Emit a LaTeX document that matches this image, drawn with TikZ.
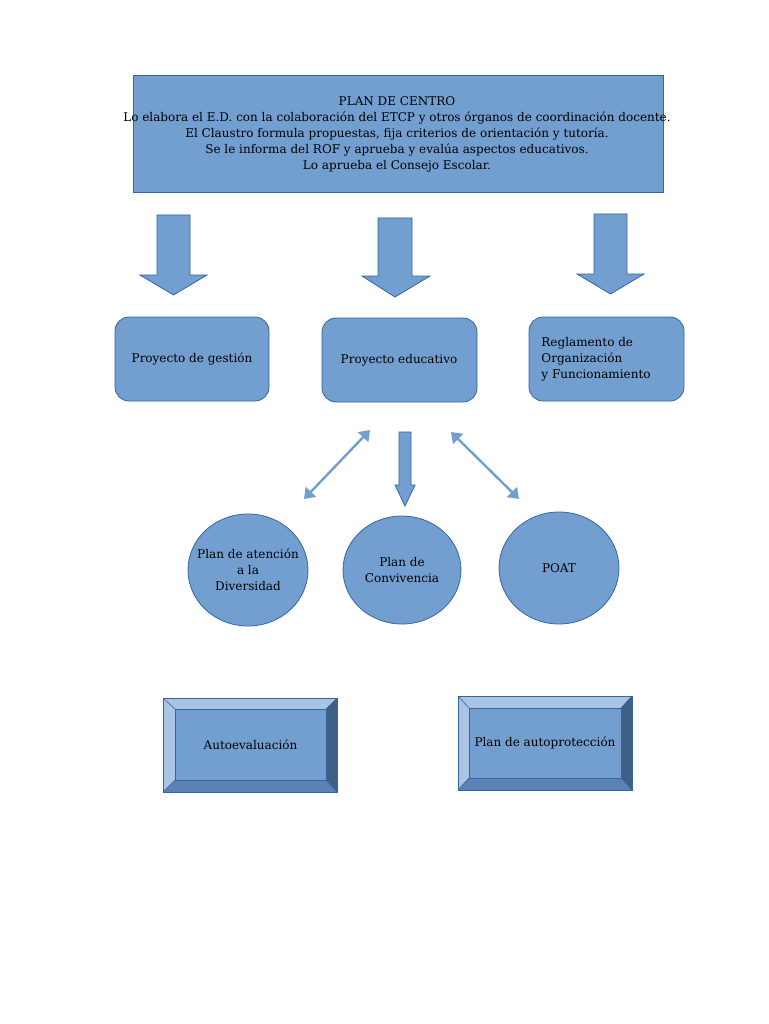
\documentclass[tikz,border=0pt]{standalone}
\usepackage{fontspec}
\setmainfont{DejaVu Serif}
\usetikzlibrary{shapes.geometric,arrows.meta}
\definecolor{fillb}{HTML}{729FCF}
\definecolor{lineb}{HTML}{3465A4}
\definecolor{lightb}{HTML}{A9C4E4}
\definecolor{darkb}{HTML}{3F5F86}
\definecolor{midb}{HTML}{5A82B4}
\tikzset{x=1pt,y=-1pt,
 box/.style={draw=lineb,fill=fillb,line width=0.8pt},
 rbox/.style={box,rounded corners=14pt},
 ell/.style={box,ellipse},
 txt/.style={font=\fontsize{12}{16}\selectfont,align=center},
 dbl/.style={draw=lineb,line width=2.4pt,{Triangle[length=10pt,width=14pt,fill=fillb]}-{Triangle[length=10pt,width=14pt,fill=fillb]},color=fillb}}
\begin{document}
\begin{tikzpicture}
\useasboundingbox (0,0) rectangle (768,1024);
\fill[white] (0,0) rectangle (768,1024);
\draw[box] (133,75) rectangle (663,192);
\node[txt] (top) at (397,134) {PLAN DE CENTRO\\Lo elabora el E.D. con la colaboración del ETCP y otros órganos de coordinación docente.\\El Claustro formula propuestas, fija criterios de orientación y tutoría.\\Se le informa del ROF y aprueba y evalúa aspectos educativos.\\Lo aprueba el Consejo Escolar.};
% block arrows
\foreach \a/\b/\c/\d/\t/\s/\e in {157/190/140/207/215/275/295, 378/412/362/430/218/276/297, 594/627/577/644/214/274/294}
  \draw[box] (\a,\t) -- (\b,\t) -- (\b,\s) -- (\d,\s) -- ({(\a+\b)/2},\e) -- (\c,\s) -- (\a,\s) -- cycle;
\draw[rbox] (115,317) rectangle (269,401);
\node[txt] (pg) at (192,359) {Proyecto de gestión};
\draw[rbox] (322,318) rectangle (477,402);
\node[txt] (pe) at (399,360) {Proyecto educativo};
\draw[rbox] (529,317) rectangle (684,401);
\node[txt,align=left] (rof) at (596,359) {Reglamento de\\Organización\\y Funcionamiento};
\coordinate (a1) at (370,430); \coordinate (a2) at (304,499);
\coordinate (b1) at (451,432); \coordinate (b2) at (519,499);
\draw[dbl] (a1) -- (a2);
\draw[dbl] (b1) -- (b2);
\draw[box] (399,432) -- (411,432) -- (411,485) -- (415,485) -- (405,506) -- (395,485) -- (399,485) -- cycle;
\node[ell,minimum width=120pt,minimum height=112pt] (e1) at (248,570) {};
\node[txt] at (e1) {Plan de atención\\a la\\Diversidad};
\node[ell,minimum width=118pt,minimum height=108pt] (e2) at (402,570) {};
\node[txt] at (e2) {Plan de\\Convivencia};
\node[ell,minimum width=120pt,minimum height=112pt] (e3) at (559,568) {};
\node[txt] at (e3) {POAT};
% bevel boxes
\foreach \x/\y/\X/\Y/\i/\j/\I/\J/\n/\lab in {163/698/337/792/175/709/326/780/b1n/Autoevaluación, 458/696/632/790/469/708/621/778/b2n/Plan de autoprotección}{
 \fill[lightb] (\x,\y) -- (\X,\y) -- (\I,\j) -- (\i,\j) -- cycle;
 \fill[lightb] (\x,\y) -- (\i,\j) -- (\i,\J) -- (\x,\Y) -- cycle;
 \fill[darkb] (\X,\y) -- (\X,\Y) -- (\I,\J) -- (\I,\j) -- cycle;
 \fill[midb] (\x,\Y) -- (\X,\Y) -- (\I,\J) -- (\i,\J) -- cycle;
 \draw[lineb,line width=0.8pt] (\x,\y) rectangle (\X,\Y);
 \draw[lineb,line width=0.6pt] (\x,\y) -- (\i,\j) (\X,\y) -- (\I,\j) (\x,\Y) -- (\i,\J) (\X,\Y) -- (\I,\J);
 \draw[box] (\i,\j) rectangle (\I,\J);
 \node[txt] (\n) at ({(\i+\I)/2},{(\j+\J)/2}) {\lab};
}
\end{tikzpicture}
\end{document}
